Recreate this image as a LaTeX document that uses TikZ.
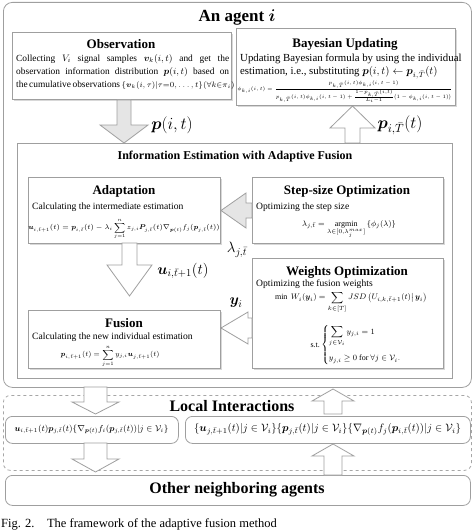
\documentclass[tikz,border=0pt]{standalone}
\usepackage{fix-cm}
\usepackage{amsmath,amssymb,bm}
\usepackage{fontspec}
\setmainfont{Liberation Serif}
\usetikzlibrary{shadows}

\tikzset{
  box/.style={draw=gray!75, fill=white, line width=0.8pt, anchor=north west, inner sep=0pt},
  shbox/.style={box, drop shadow={shadow xshift=1.2pt, shadow yshift=-1.2pt, opacity=0.3}},
  rbox/.style={box, rounded corners=7pt},
  head/.style={inner sep=0pt, font=\bfseries\fontsize{13}{14}\selectfont},
  bighead/.style={inner sep=0pt, font=\bfseries\fontsize{17}{18}\selectfont},
  body/.style={inner sep=0pt, anchor=north west, align=left, font=\fontsize{9.4}{13}\selectfont},
  eqn/.style={inner sep=0pt, font=\fontsize{7}{8}\selectfont},
  lbl/.style={inner sep=0pt, font=\fontsize{15}{16}\selectfont},
  bigarrow/.style={draw=gray!75, fill=white, line width=0.8pt, line join=miter},
  grayarrow/.style={bigarrow, fill=gray!20},
}

\begin{document}
\begin{tikzpicture}[x=1pt,y=-1pt]
\useasboundingbox (0,0) rectangle (474,532);

% agent i
\node[rbox, minimum width=468pt, minimum height=385pt, rounded corners=9pt] (agent) at (3,2) {};
\node[bighead] (agenttitle) at (237,17) {An agent $\bm{i}$};

% observation and bayesian updating
\node[shbox, minimum width=219pt, minimum height=67pt] (obs) at (12,32) {};
\node[head] (obstitle) at (121,44) {Observation};
\node[body] (obstext) at (16,54) {%
\makebox[213pt][s]{Collecting $V_i$ signal samples $\bm{v}_k(i,t)$ and get the}\\
\makebox[213pt][s]{observation information distribution $\bm{p}(i,t)$ based on}\\
\makebox[213pt][s]{the cumulative observations {\fontsize{7.8}{13}\selectfont$\{\bm{v}_k(i,\tau)|\tau{=}0,\ldots,t\}(\forall k{\in}\pi_i)$}}};

\node[shbox, minimum width=219pt, minimum height=77pt] (bayes) at (236,28) {};
\node[head] (bayestitle) at (345,44) {Bayesian Updating};
\node[body, font=\fontsize{10.8}{13}\selectfont] (bayestext) at (240,54) {%
Updating Bayesian formula by using the individual\\
estimation, i.e., substituting $\bm{p}(i,t)\leftarrow\bm{p}_{i,\bar{T}}(t)$};
\node[eqn, font=\fontsize{5}{6}\selectfont] (bayeseq) at (345,92)
  {$\phi_{k,i}(i,t)=\dfrac{p_{k,\bar{T}}(i,t)\phi_{k,i}(i,t-1)}{p_{k,\bar{T}}(i,t)\phi_{k,i}(i,t-1)+\frac{1-p_{k,\bar{T}}(i,t)}{L_i-1}\bigl(1-\phi_{k,i}(i,t-1)\bigr)}$};

% arrows between top row and estimation block
\draw[grayarrow] (117,100) -- (131,100) -- (131,125) -- (148,125) -- (124,143)
  -- (100,125) -- (117,125) -- cycle;
\node[lbl, font=\fontsize{17}{18}\selectfont] (plbl) at (172,125) {$\bm{p}(i,t)$};
\draw[bigarrow] (345,143) -- (360,143) -- (360,128) -- (375,128) -- (352.5,106)
  -- (330,128) -- (345,128) -- cycle;
\node[lbl, font=\fontsize{17}{18}\selectfont] (ptlbl) at (400,125) {$\bm{p}_{i,\bar{T}}(t)$};

% information estimation with adaptive fusion
\node[box, minimum width=435pt, minimum height=235pt] (info) at (17,143) {};
\node[head, font=\bfseries\fontsize{12}{13}\selectfont] (infotitle) at (235,157)
  {Information Estimation with Adaptive Fusion};

\node[shbox, minimum width=192pt, minimum height=66pt] (adapt) at (28,177) {};
\node[head] (adapttitle) at (124,191) {Adaptation};
\node[body, font=\fontsize{9.6}{11}\selectfont] (adapttext) at (32,203)
  {Calculating the intermediate estimation};
\node[eqn, font=\fontsize{6.9}{8}\selectfont] (adapteq) at (124,229)
  {$\bm{u}_{i,\bar{t}+1}(t)=\bm{p}_{i,\bar{t}}(t)-\lambda_i\displaystyle\sum_{j=1}^{n}z_{j,i}\bm{P}_{j,\bar{t}}(t)\nabla_{\bm{p}(t)}f_j(\bm{p}_{j,\bar{t}}(t))$};

\node[shbox, minimum width=191pt, minimum height=66pt] (step) at (252,177) {};
\node[head] (steptitle) at (347,191) {Step-size Optimization};
\node[body, font=\fontsize{9.6}{11}\selectfont] (steptext) at (256,203)
  {Optimizing the step size};
\node[eqn, font=\fontsize{8}{9}\selectfont] (stepeq) at (349,229)
  {$\displaystyle\lambda_{j,\bar{t}}=\operatorname*{argmin}_{\lambda\in[0,\lambda_j^{max}]}\,\{\phi_j(\lambda)\}$};

\draw[grayarrow] (252,203) -- (246,203) -- (246,193) -- (221,210.5) -- (246,228)
  -- (246,218) -- (252,218) -- cycle;
\node[lbl] (lamlbl) at (237,250) {$\lambda_{j,\bar{t}}$};

\draw[bigarrow] (122,243) -- (137,243) -- (137,265) -- (152,265) -- (129.5,296)
  -- (107,265) -- (122,265) -- cycle;
\node[lbl] (ulbl) at (183,271) {$\bm{u}_{i,\bar{t}+1}(t)$};

\node[shbox, minimum width=191pt, minimum height=110pt] (weights) at (252,258) {};
\node[head] (weightstitle) at (347,272) {Weights Optimization};
\node[body, font=\fontsize{9.6}{11}\selectfont] (weightstext) at (256,280)
  {Optimizing the fusion weights};
\node[eqn, font=\fontsize{8}{9}\selectfont] (weightseq) at (351,302)
  {$\min\ W_i(\bm{y}_i)=\displaystyle\sum_{k\in[T]}JSD\left(U_{i,k,\bar{t}+1}(t)\middle|\,\bm{y}_i\right)$};
\node[eqn, font=\fontsize{8}{9}\selectfont] (weightscon) at (360,345)
  {$\text{s.t.}\begin{cases}\displaystyle\sum_{j\in\mathcal{V}_i}y_{j,i}=1\\[16pt] y_{j,i}\geq 0\ \text{for}\ \forall j\in\mathcal{V}_i.\end{cases}$};

\draw[bigarrow] (252,318) -- (248,318) -- (248,312) -- (221,328) -- (248,344)
  -- (248,338) -- (252,338) -- cycle;
\node[lbl] (ylbl) at (236,303) {$\bm{y}_i$};

\node[shbox, minimum width=192pt, minimum height=58pt] (fusion) at (28,310) {};
\node[head] (fusiontitle) at (124,323) {Fusion};
\node[body, font=\fontsize{9.6}{11}\selectfont] (fusiontext) at (32,333)
  {Calculating the new individual estimation};
\node[eqn, font=\fontsize{7}{8}\selectfont] (fusioneq) at (110,356)
  {$\bm{p}_{i,\bar{t}+1}(t)=\displaystyle\sum_{j=1}^{n}y_{j,i}\bm{u}_{j,\bar{t}+1}(t)$};

% local interactions
\node[rbox, dashed, draw=gray!70, minimum width=468pt, minimum height=75pt, fill=none] (local) at (3,395) {};
\node[head, font=\bfseries\fontsize{16}{17}\selectfont] (localtitle) at (232,406) {Local Interactions};
\node[rbox, minimum width=173pt, minimum height=27pt] (sendbox) at (5,416) {};
\node[eqn, font=\fontsize{8.6}{9}\selectfont] (sendtext) at (91.5,429.5)
  {$\bm{u}_{i,\bar{t}+1}(t)\bm{p}_{j,\bar{t}}(t)\{\nabla_{\bm{p}(t)}f_i(\bm{p}_{j,\bar{t}}(t))|j\in\mathcal{V}_i\}$};
\node[rbox, minimum width=285pt, minimum height=27pt] (recvbox) at (185,416) {};
\node[eqn, font=\fontsize{10.8}{11}\selectfont] (recvtext) at (327.5,429.5)
  {$\{\bm{u}_{j,\bar{t}+1}(t)|j\in\mathcal{V}_i\}\{\bm{p}_{j,\bar{t}}(t)|j\in\mathcal{V}_i\}\{\nabla_{\bm{p}(t)}f_j(\bm{p}_{i,\bar{t}}(t))|j\in\mathcal{V}_i\}$};

\draw[bigarrow] (84,387) -- (107,387) -- (107,402) -- (119,402) -- (95.5,414)
  -- (72,402) -- (84,402) -- cycle;
\draw[bigarrow] (324,414) -- (342,414) -- (342,401) -- (354,401) -- (333,389)
  -- (312,401) -- (324,401) -- cycle;

% other agents
\node[rbox, minimum width=465pt, minimum height=30pt] (others) at (5,475) {};
\node[head, font=\bfseries\fontsize{16}{17}\selectfont] (otherstitle) at (237,490) {Other neighboring agents};

\draw[bigarrow] (84,443) -- (107,443) -- (107,459) -- (119,459) -- (95.5,472)
  -- (72,459) -- (84,459) -- cycle;
\draw[bigarrow] (324,475) -- (342,475) -- (342,456) -- (354,456) -- (333,444)
  -- (312,456) -- (324,456) -- cycle;

% caption
\node[inner sep=0pt, anchor=base west, font=\fontsize{12.5}{13}\selectfont] (caption) at (1,527.5)
  {Fig. 2.\quad The framework of the adaptive fusion method};
\end{tikzpicture}
\end{document}
